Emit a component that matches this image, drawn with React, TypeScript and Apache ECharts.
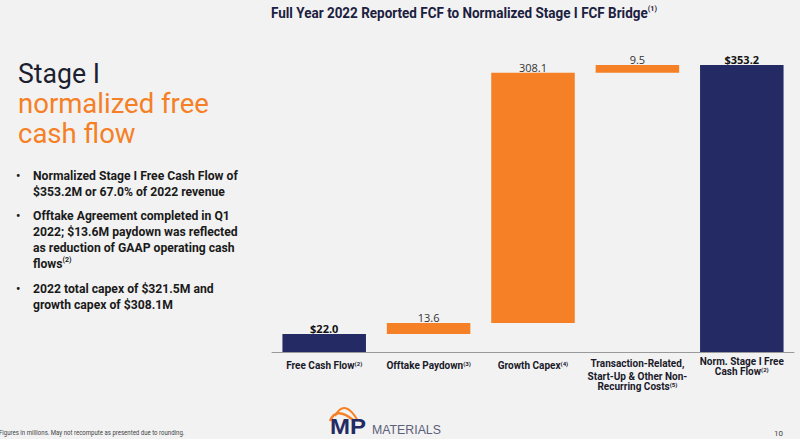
import React, { useEffect, useRef } from "react";
import * as echarts from "echarts";

const categories = [
  "Free Cash Flow",
  "Offtake Paydown",
  "Growth Capex",
  "Transaction-Related,\nStart-Up & Other Non-\nRecurring Costs",
  "Norm. Stage I Free\nCash Flow",
];
const footnotes = ["2", "3", "4", "5", "2"];
const barValues = [22.0, 13.6, 308.1, 9.5, 353.2];
const barKinds = ["total", "step", "step", "step", "total"];
const valueLabels = ["$22.0", "13.6", "308.1", "9.5", "$353.2"];

const titleText = "Full Year 2022 Reported FCF to Normalized Stage I FCF Bridge";
const headline = ["Stage I", "normalized free", "cash flow"];
const bullets = [
  ["Normalized Stage I Free Cash Flow of", "$353.2M or 67.0% of 2022 revenue"],
  ["Offtake Agreement completed in Q1", "2022; $13.6M paydown was reflected", "as reduction of GAAP operating cash", "flows{sup|(2)}"],
  ["2022 total capex of $321.5M and", "growth capex of $308.1M"],
];

const NAVY = "#242a64";
const ORANGE = "#f58026";
const FONT = "Roboto, 'Liberation Sans', sans-serif";

function measure(text: string, font: string): number {
  const c = document.createElement("canvas");
  const ctx = c.getContext("2d");
  if (!ctx) return 1;
  ctx.font = font;
  return ctx.measureText(text).width || 1;
}

export default function App() {
  const ref = useRef<HTMLDivElement>(null);
  useEffect(() => {
    if (!ref.current) return;
    const chart = echarts.init(ref.current, null, { renderer: "svg" });

    let running = 0;
    const bases: number[] = [];
    barValues.forEach((v, i) => {
      if (barKinds[i] === "total") {
        bases.push(0);
        running = v;
      } else {
        bases.push(running);
        running += v;
      }
    });

    const visible = barValues.map((v, i) => ({
      value: v,
      itemStyle: { color: barKinds[i] === "total" ? NAVY : ORANGE },
      label: {
        fontWeight: barKinds[i] === "total" ? "bold" : "normal",
        color: barKinds[i] === "total" ? "#111111" : "#333333",
      },
    }));

    const titleFont = `bold 15px ${FONT}`;
    const titleScale = 377 / measure(titleText, titleFont);
    const headFont = `28px ${FONT}`;
    const stageScale = 82 / measure(headline[0], headFont);
    const orangeScale = 191 / measure(headline[1], headFont);
    const bulletFont = `bold 12px ${FONT}`;
    const bulletScale = 205 / measure(bullets[0][0], bulletFont);
    const footFont = `6.5px ${FONT}`;
    const footText = "Figures in millions. May not recompute as presented due to rounding.";
    const footScale = 186 / measure(footText, footFont);
    const mpFont = "bold 22px 'Liberation Sans', Roboto, sans-serif";
    const mpScale = 36 / measure("MP", mpFont);
    const matFont = "12.5px 'Liberation Sans', Roboto, sans-serif";
    const matScale = 69 / measure("MATERIALS", matFont);

    const graphics: any[] = [
      {
        type: "text",
        x: 271,
        y: 4,
        scaleX: titleScale,
        style: {
          text: titleText + "{sup|(1)}",
          font: titleFont,
          fill: "#1b2040",
          verticalAlign: "top",
          lineHeight: 18,
          rich: {
            sup: { fontSize: 8, fontWeight: "bold", fontFamily: FONT, fill: "#1b2040", lineHeight: 8, verticalAlign: "top" },
          },
        },
      },
      {
        type: "text",
        x: 18,
        y: 74,
        scaleX: stageScale,
        style: { text: headline[0], font: headFont, fill: "#1c1f30", verticalAlign: "middle" },
      },
      {
        type: "text",
        x: 18,
        y: 89,
        scaleX: orangeScale,
        style: {
          text: headline[1] + "\n" + headline[2],
          font: headFont,
          fill: ORANGE,
          verticalAlign: "top",
          lineHeight: 29.5,
        },
      },
      {
        type: "text",
        x: -1,
        y: 433,
        scaleX: footScale,
        style: { text: footText, font: footFont, fill: "#444444", verticalAlign: "middle" },
      },
      {
        type: "text",
        x: 774,
        y: 433,
        style: { text: "10", font: `8px ${FONT}`, fill: "#444444", verticalAlign: "middle" },
      },
      // logo
      {
        type: "bezierCurve",
        shape: { x1: 330, y1: 421, x2: 353, y2: 420, cpx1: 336, cpy1: 406 },
        style: { stroke: ORANGE, lineWidth: 2.5, fill: null },
      },
      {
        type: "bezierCurve",
        shape: { x1: 335, y1: 416, x2: 358, y2: 421, cpx1: 345, cpy1: 398 },
        style: { stroke: ORANGE, lineWidth: 2, fill: null },
      },
      {
        type: "text",
        x: 330,
        y: 426.8,
        scaleX: mpScale,
        style: {
          text: "MP",
          font: mpFont,
          fill: NAVY,
          verticalAlign: "middle",
        },
      },
      {
        type: "text",
        x: 372,
        y: 430,
        scaleX: matScale,
        style: {
          text: "MATERIALS",
          font: matFont,
          fill: "#5b6079",
          verticalAlign: "middle",
        },
      },
    ];

    const bulletTop = [168, 208, 281];
    bullets.forEach((lines, bi) => {
      graphics.push({
        type: "text",
        x: 16,
        y: bulletTop[bi],
        style: { text: "•", font: bulletFont, fill: "#1a1a1a", lineHeight: 16, verticalAlign: "top" },
      });
      graphics.push({
        type: "text",
        x: 33,
        y: bulletTop[bi],
        scaleX: bulletScale,
        style: {
          text: lines.join("\n"),
          font: bulletFont,
          fill: "#1a1a1a",
          lineHeight: 16,
          verticalAlign: "top",
          rich: {
            sup: { fontSize: 7, fontWeight: "bold", fontFamily: FONT, fill: "#1a1a1a", lineHeight: 7, verticalAlign: "top" },
          },
        },
      });
    });

    const labelStyle = (lh: number) => ({
      fontSize: 10,
      fontWeight: "bold",
      fontFamily: FONT,
      color: "#1a1a2a",
      lineHeight: lh,
    });

    chart.setOption({
      animation: false,
      backgroundColor: "#f2f2f2",
      grid: { left: 272, right: 6, top: 65, bottom: 87, containLabel: false },
      xAxis: {
        type: "category",
        data: categories,
        axisLine: { lineStyle: { color: "#9a9a9a", width: 1 } },
        axisTick: { show: false },
        axisLabel: {
          interval: 0,
          margin: 4,
          color: "#1a1a2a",
          fontFamily: FONT,
          fontWeight: "bold",
          fontSize: 10,
          formatter: (value: string, idx: number) => {
            const lines = value.split("\n");
            const sup = `(${footnotes[idx]})`;
            if (lines.length === 1) {
              return `{one|${lines[0]}}{supA|${sup}}`;
            }
            if (lines.length === 3) {
              return `{first|${lines[0]}}\n{rest|${lines[1]}}\n{rest|${lines[2]}}{supB|${sup}}`;
            }
            return `{firstN|${lines[0]}}\n{rest|${lines[1]}}{supB|${sup}}`;
          },
          rich: {
            one: labelStyle(19),
            first: labelStyle(15),
            firstN: labelStyle(10.5),
            rest: labelStyle(10.5),
            supA: { fontSize: 6, fontWeight: "bold", fontFamily: FONT, color: "#1a1a2a", lineHeight: 6, verticalAlign: "top", padding: [4, 0, 0, 0] },
            supB: { fontSize: 6, fontWeight: "bold", fontFamily: FONT, color: "#1a1a2a", lineHeight: 6, verticalAlign: "top" },
          },
        },
      },
      yAxis: {
        type: "value",
        min: 0,
        max: 353.2,
        show: false,
        splitLine: { show: false },
      },
      series: [
        {
          type: "bar",
          stack: "w",
          data: bases,
          itemStyle: { color: "transparent" },
          emphasis: { disabled: true },
          barWidth: "80%",
          silent: true,
        },
        {
          type: "bar",
          stack: "w",
          data: visible,
          barWidth: "80%",
          label: {
            show: true,
            position: "top",
            distance: 0,
            fontFamily: "'Open Sans', sans-serif",
            fontSize: 11,
            formatter: (p: any) => valueLabels[p.dataIndex],
          },
        },
      ],
      graphic: graphics,
    });

    return () => chart.dispose();
  }, []);

  return (
    <div
      ref={ref}
      style={{ position: "fixed", left: 0, top: 0, width: 800, height: 439, background: "#f2f2f2" }}
    />
  );
}
